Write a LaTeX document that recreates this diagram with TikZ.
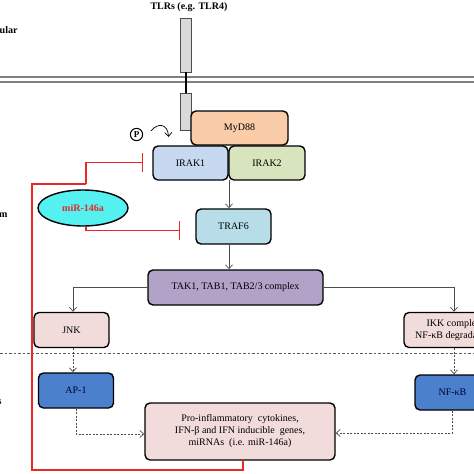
\documentclass[tikz,border=0pt]{standalone}
\usepackage{fontspec}
\setmainfont{Liberation Serif}
\usetikzlibrary{arrows.meta,shapes.geometric}
\definecolor{myd88col}{RGB}{250,204,168}
\definecolor{irakacol}{RGB}{198,217,241}
\definecolor{irakbcol}{RGB}{215,228,189}
\definecolor{trafcol}{RGB}{183,222,232}
\definecolor{takcol}{RGB}{179,162,199}
\definecolor{pinkcol}{RGB}{242,220,219}
\definecolor{tfcol}{RGB}{74,128,204}
\definecolor{mircol}{RGB}{85,240,240}
\definecolor{inhcol}{RGB}{232,40,40}
\definecolor{tlrcol}{RGB}{217,217,217}

\begin{document}
\begin{tikzpicture}
	[x=1pt, y=-1pt, font=\fontsize{10}{12}\selectfont,
	box/.style={draw, line width=1.4pt, rounded corners=5pt, align=center, inner sep=1pt},
	tlr/.style={draw=black!70, fill=tlrcol, line width=0.6pt, minimum width=11pt},
	region/.style={font=\fontsize{10}{12}\selectfont\bfseries, anchor=east},
	act/.style={draw=black!70, line width=0.7pt, -{Straight Barb[length=4pt,width=7pt]}},
	dotact/.style={act, dash pattern=on 2pt off 1.5pt},
	inh/.style={draw=inhcol, line width=1.3pt},
	membrane/.style={draw=black!50, line width=1.4pt}]
	\clip (0,0) rectangle (474,474);
	% regions
	\node[region] (extra) at (21,30) {Extracellular};
	\node[region] (cyto) at (11,215) {Cytoplasm};
	\node[region] (nucl) at (5,401) {Nucleus};
	\draw[membrane] (0,77) -- (474,77);
	\draw[membrane] (0,82) -- (474,82);
	\draw[black!65, dash pattern=on 2.5pt off 2pt, line width=0.9pt] (0,353) -- (474,353);
	
	% receptor
	\node[font=\fontsize{10}{12}\selectfont\bfseries] (tlrlabel) at (189,7) {TLRs (e.g. TLR4)};
	\node[tlr, minimum height=54pt] (tlrout) at (185.5,45) {};
	\node[tlr, minimum height=37pt] (tlrin) at (185.5,111.5) {};
	\draw[line width=2pt] (tlrout.south) -- (tlrin.north);
	
	% signalling boxes
	\node[box, fill=myd88col, minimum width=97pt, minimum height=34pt] (myd88) at (239.5,128) {MyD88};
	\node[box, fill=irakacol, minimum width=75pt, minimum height=34pt] (irak1) at (190.5,163) {IRAK1};
	\node[box, fill=irakbcol, minimum width=76pt, minimum height=34pt] (irak2) at (267,163) {IRAK2};
	\node[box, fill=trafcol, minimum width=75pt, minimum height=35pt] (traf6) at (233.5,226.5) {TRAF6};
	\node[box, fill=takcol, minimum width=175pt, minimum height=35pt] (tak) at (235.5,287.5) {TAK1, TAB1, TAB2/3 complex};
	\node[box, fill=pinkcol, minimum width=75pt, minimum height=35pt] (jnk) at (71.5,330) {JNK};
	\node[box, fill=pinkcol, minimum width=100pt, minimum height=35pt] (ikk) at (454,330) {IKK complex\\NF-κB degradation};
	\node[box, fill=tfcol, text=black!80!blue, minimum width=75pt, minimum height=35pt] (ap1) at (76,390.5) {AP-1};
	\node[box, fill=tfcol, text=black!80!blue, minimum width=75pt, minimum height=35pt] (nfkb) at (452.5,392.5) {NF-κB};
	\node[box, fill=pinkcol, minimum width=190pt, minimum height=57pt] (genes) at (240,431.5)
		{Pro-inflammatory\ \ cytokines,\\IFN-β and IFN inducible\ \ genes,\\miRNAs\ \ (i.e. miR-146a)};
	
	% phosphorylation
	\node[draw, circle, line width=1pt, inner sep=1.5pt, font=\fontsize{9}{10}\selectfont\bfseries] (phos) at (136.5,134.5) {P};
	\draw[act, black] (151,131) .. controls (158,122) and (168,124) .. (168.5,137);
	
	% activation arrows
	\coordinate (irakjoin) at (229,180);
	\draw[act] (irakjoin) -- (irakjoin |- traf6.north);
	\draw[act] (irakjoin |- traf6.south) -- (irakjoin |- tak.north);
	\draw[act] (tak.west) -| (jnk.north -| 73,0);
	\draw[act] (tak.east) -| (ikk.north);
	\draw[dotact] (jnk.south -| 73,0) -- (ap1.north -| 73,0);
	\draw[dotact] (ikk.south) -- (nfkb.north -| ikk.south);
	\draw[dotact] (ap1.south) |- (genes.west |- 0,434);
	\draw[dotact] (nfkb.south) |- (genes.east |- 0,433);
	
	% miR-146a feedback
	\node[draw, ellipse, line width=1.4pt, fill=mircol, minimum width=90pt, minimum height=36pt, text=inhcol, font=\fontsize{10}{12}\selectfont\bfseries] (mir) at (83,208) {miR-146a};
	\coordinate (mirjoin) at (86,184);
	\draw[inh] (243,460) -- (243,470) -- (32,470) -- (32,184) -- (mirjoin);
	\draw[inh, -{Bar[width=19pt]}] (mirjoin) -- (86,162.5) -- (143,162.5);
	\draw[inh, -{Bar[width=19pt]}] (mir.south -| 86,0) -- (86,230.5) -- (180,230.5);
\end{tikzpicture}
\end{document}
